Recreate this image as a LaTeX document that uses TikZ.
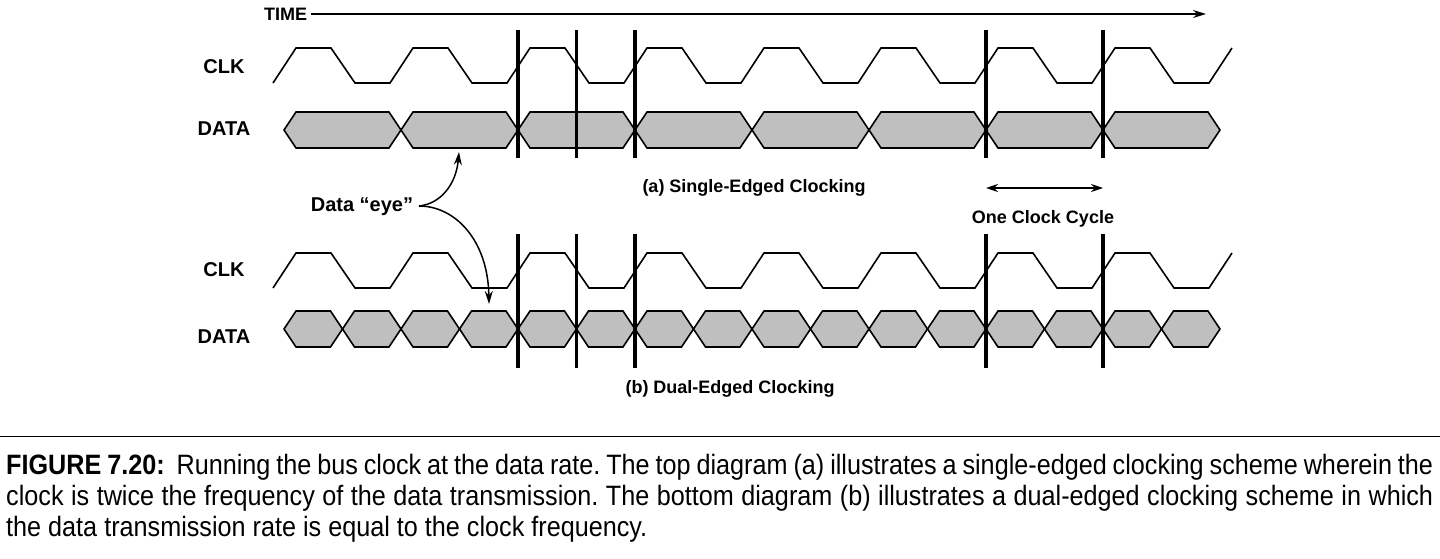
\documentclass[tikz,border=0pt]{standalone}
\usepackage{fontspec}
\setmainfont{Liberation Sans}
\newfontfamily\capfont[FakeStretch=0.9]{Liberation Sans}
\usetikzlibrary{arrows.meta}
\begin{document}
\frenchspacing
\begin{tikzpicture}[x=1pt,y=-1pt,
  wave/.style={line width=1.6pt,line join=miter},
  hexa/.style={line width=1.6pt,fill=black!25},
  vline/.style={line width=3.2pt},
  lbl/.style={font=\bfseries\fontsize{18}{20}\selectfont,inner sep=0pt},
  sub/.style={font=\bfseries\fontsize{18}{20}\selectfont,inner sep=0pt},
  arr/.style={line width=1.5pt,-{Stealth[length=13pt,width=8pt]}}]
\useasboundingbox (0,0) rectangle (1440,559);
% TIME
\node[lbl,anchor=west] (time) at (264,14) {TIME};
\coordinate (tend) at (1206,14);
\draw[line width=1.5pt,-{Stealth[length=13pt,width=8pt]}] (time.east) ++(4,0) -- (tend);
% labels
\node[lbl,font=\bfseries\fontsize{20}{22}\selectfont] (clka) at (224,67) {CLK};
\node[lbl,font=\bfseries\fontsize{20}{22}\selectfont] (dataa) at (224,129) {DATA};
\node[lbl,font=\bfseries\fontsize{20}{22}\selectfont] (clkb) at (224,270) {CLK};
\node[lbl,font=\bfseries\fontsize{20}{22}\selectfont] (datab) at (224,337) {DATA};
% clocks
\foreach \yl/\yh in {83/48, 288/253}{
  \draw[wave] (273,\yl)
  \foreach \k in {0,...,7}{ -- ({273+117*\k+23},\yh) -- ({273+117*\k+58},\yh) -- ({273+117*\k+82},\yl) -- ({273+117*\k+117},\yl)}
  -- (1232,\yh);
}
% top data
\foreach \k in {0,...,7}{
  \pgfmathsetmacro\c{284+117*\k}
  \draw[hexa] (\c,130) -- (\c+12,112) -- (\c+105,112) -- (\c+117,130) -- (\c+105,148) -- (\c+12,148) -- cycle;
}
% bottom data
\foreach \k in {0,...,15}{
  \pgfmathsetmacro\c{284+58.5*\k}
  \draw[hexa] (\c,329) -- (\c+12,311) -- (\c+46.5,311) -- (\c+58.5,329) -- (\c+46.5,347) -- (\c+12,347) -- cycle;
}
% vertical lines
\foreach \x in {518,576.5,635,986,1103}{
  \draw[vline] (\x,30) -- (\x,158);
  \draw[vline] (\x,234) -- (\x,368);
}
% sub captions
\node[sub] (capa) at (754,188) {(a) Single-Edged Clocking};
\node[sub] (capb) at (730,389) {(b) Dual-Edged Clocking};
\node[sub] (occ) at (1043,219) {One Clock Cycle};
\coordinate (cc1) at (986,188);
\coordinate (cc2) at (1103,188);
\draw[line width=1.5pt,{Stealth[length=12pt,width=8pt]}-{Stealth[length=12pt,width=8pt]}] (cc1) -- (cc2);
% data eye
\node[lbl,font=\bfseries\fontsize{20}{22}\selectfont] (eye) at (362,207) {Data “eye”};
\coordinate (e0) at (419,206);
\coordinate (e1) at (459,152);
\coordinate (e2) at (489,304);
\draw[arr] (e0) .. controls (440,204) and (456,185) .. (e1);
\draw[arr] (e0) .. controls (455,206) and (488,240) .. (e2);
% rule
\draw[line width=1pt] (0,436) -- (1440,436);
% caption
\begin{scope}[every node/.style={anchor=west,inner sep=0pt,font=\capfont\fontsize{28}{30}\selectfont}]
\node (l1) at (6,467) {\makebox[1427pt][s]{\textbf{FIGURE 7.20:}\ \ Running the bus clock at the data rate. The top diagram (a) illustrates a single-edged clocking scheme wherein the}};
\node (l2) at (6,498) {\makebox[1427pt][s]{clock is twice the frequency of the data transmission. The bottom diagram (b) illustrates a dual-edged clocking scheme in which}};
\node (l3) at (6,529) {the data transmission rate is equal to the clock frequency.};
\end{scope}
\end{tikzpicture}
\end{document}
